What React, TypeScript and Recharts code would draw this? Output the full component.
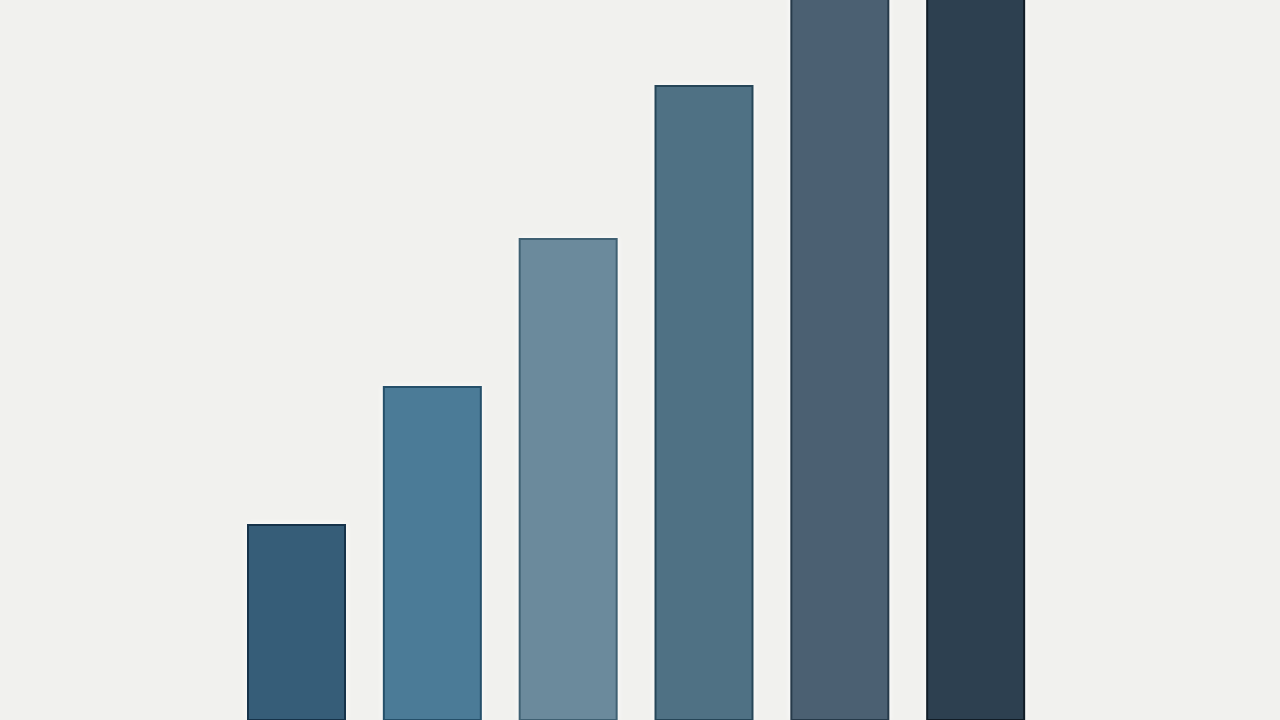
import React from "react";
import { BarChart, Bar, XAxis, YAxis, Cell } from "recharts";

const categories = ["A", "B", "C", "D", "E", "F"];
const values = [195, 333, 481, 634, 795, 955];

const fills = ["#365d78", "#4b7b97", "#6b8a9c", "#4f7184", "#4b6072", "#2d4050"];
const strokes = ["#16334a", "#25506a", "#3f6072", "#264658", "#263a4a", "#111d27"];

const chartData = categories.map((name, i) => ({ name, value: values[i] }));

export default function App() {
    return (
        <div style={{ position: "fixed", top: 0, left: 0, width: 1280, height: 720, background: "#f1f1ee", overflow: "hidden" }}>
            <BarChart width={1280} height={720} data={chartData} margin={{ top: 0, right: 236, left: 229, bottom: 0 }} barCategoryGap={0}>
                <XAxis dataKey="name" hide />
                <YAxis hide domain={[0, 720]} allowDataOverflow />
                <Bar dataKey="value" barSize={97} isAnimationActive={false} strokeWidth={2}>
                    {chartData.map((d, i) => (
                        <Cell key={d.name} fill={fills[i]} stroke={strokes[i]} style={{ filter: "drop-shadow(0 0 3px #ffffff)" }} />
                    ))}
                </Bar>
            </BarChart>
        </div>
    );
}
